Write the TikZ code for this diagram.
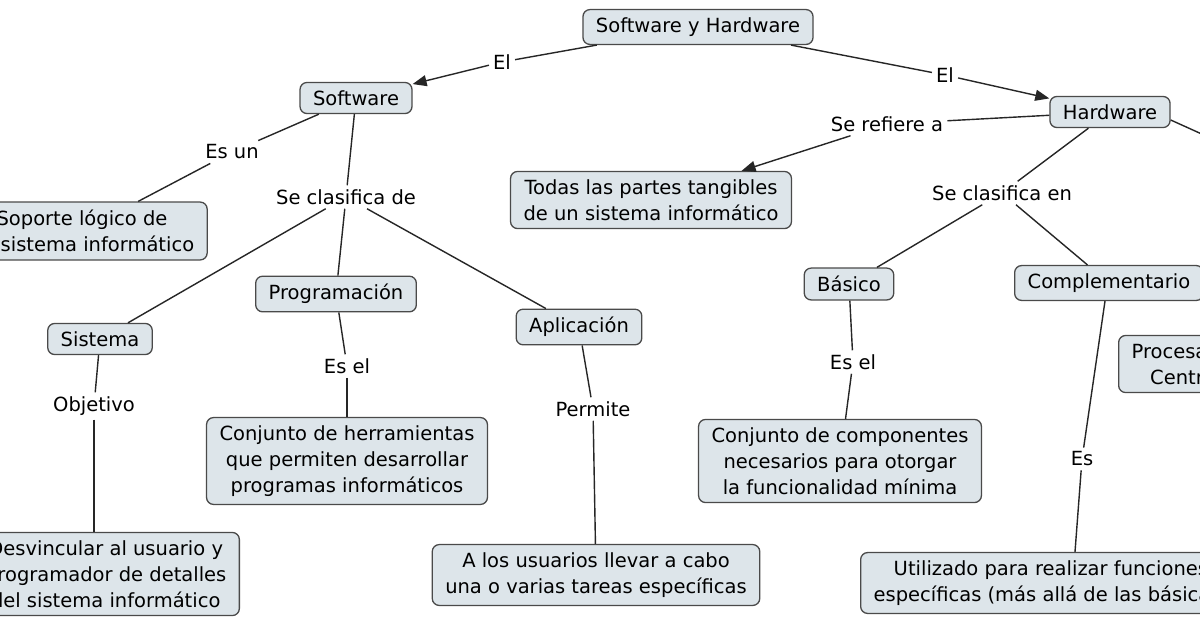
\documentclass[tikz,border=0pt]{standalone}
\usepackage{fontspec}
\setmainfont{DejaVu Sans}
\usetikzlibrary{arrows.meta}
\definecolor{boxfill}{HTML}{DDE5EA}
\definecolor{boxline}{HTML}{4A4A4A}
\tikzset{
  cbox/.style={draw=boxline,fill=boxfill,rounded corners=7pt,line width=1.3pt,inner xsep=13pt,inner ysep=8pt,align=center,font=\fontsize{19.5}{26}\selectfont},
  lbl/.style={fill=white,inner sep=4pt,font=\fontsize{19.5}{22}\selectfont},
  ln/.style={draw=black!85,line width=1.4pt},
  ar/.style={ln,-{Triangle[length=14pt,width=11pt]}}
}
\begin{document}
\begin{tikzpicture}[x=1pt,y=-1pt]
\useasboundingbox (0,0) rectangle (1200,630);
\clip (0,0) rectangle (1200,630);
\fill[white] (0,0) rectangle (1200,630);
% concepts
\node[cbox] (sh) at (698,27) {Software y Hardware};
\node[cbox] (sw) at (356,98) {Software};
\node[cbox] (hw) at (1110,112) {Hardware};
\node[cbox] (sop) at (82,231) {Soporte lógico de\\un sistema informático};
\node[cbox] (tod) at (651,200) {Todas las partes tangibles\\de un sistema informático};
\node[cbox] (sis) at (100,339) {Sistema};
\node[cbox] (pro) at (336,294) {Programación};
\node[cbox] (apl) at (579,327) {Aplicación};
\node[cbox] (bas) at (849,284) {Básico};
\node[cbox,anchor=west] (com) at (1014,283) {Complementario};
\node[cbox,anchor=west] (cpu) at (1118,364) {Procesador\\Central};
\node[cbox] (her) at (347,461) {Conjunto de herramientas\\que permiten desarrollar\\programas informáticos};
\node[cbox] (cmp) at (840,461) {Conjunto de componentes\\necesarios para otorgar\\la funcionalidad mínima};
\node[cbox,anchor=east] (vin) at (240,574) {Desvincular al usuario y\\programador de detalles\\del sistema informático};
\node[cbox] (usu) at (596,575) {A los usuarios llevar a cabo\\una o varias tareas específicas};
\node[cbox,anchor=west] (uti) at (860,583) {Utilizado para realizar funciones\\específicas (más allá de las básicas)};
% linking phrases
\node[lbl] (l1) at (502,62) {El};
\node[lbl] (l2) at (945,75) {El};
\node[lbl] (l3) at (232,152) {Es un};
\node[lbl] (l4) at (346,197) {Se clasifica de};
\node[lbl] (l5) at (887,124) {Se refiere a};
\node[lbl] (l6) at (1002,193) {Se clasifica en};
\node[lbl] (l7) at (347,366) {Es el};
\node[lbl] (l8) at (94,406) {Objetivo};
\node[lbl] (l9) at (593,409) {Permite};
\node[lbl] (l10) at (853,362) {Es el};
\node[lbl] (l11) at (1082,459) {Es};
\coordinate (off) at (1215,140);
% connectors
\draw[ln] (sh) -- (l1); \draw[ar] (l1) -- (sw);
\draw[ln] (sh) -- (l2); \draw[ar] (l2) -- (hw);
\draw[ln] (sw) -- (l3); \draw[ln] (l3) -- (sop);
\draw[ln] (sw) -- (l4);
\draw[ln] (l4) -- (sis); \draw[ln] (l4) -- (pro); \draw[ln] (l4) -- (apl);
\draw[ln] (hw) -- (l5); \draw[ar] (l5) -- (tod);
\draw[ln] (hw) -- (l6); \draw[ln] (l6) -- (bas); \draw[ln] (l6) -- (com);
\draw[ln] (hw.east) ++(0,8) -- (off);
\draw[ln] (pro) -- (l7); \draw[ln] (l7) -- (her);
\draw[ln] (sis) -- (l8); \draw[ln] (l8) -- (vin.north -| l8);
\draw[ln] (apl) -- (l9); \draw[ln] (l9) -- (usu);
\draw[ln] (bas) -- (l10); \draw[ln] (l10) -- (cmp);
\draw[ln] (com.south -| 1105,0) -- (l11); \draw[ln] (l11) -- (uti.north -| 1075,0);
\end{tikzpicture}
\end{document}
